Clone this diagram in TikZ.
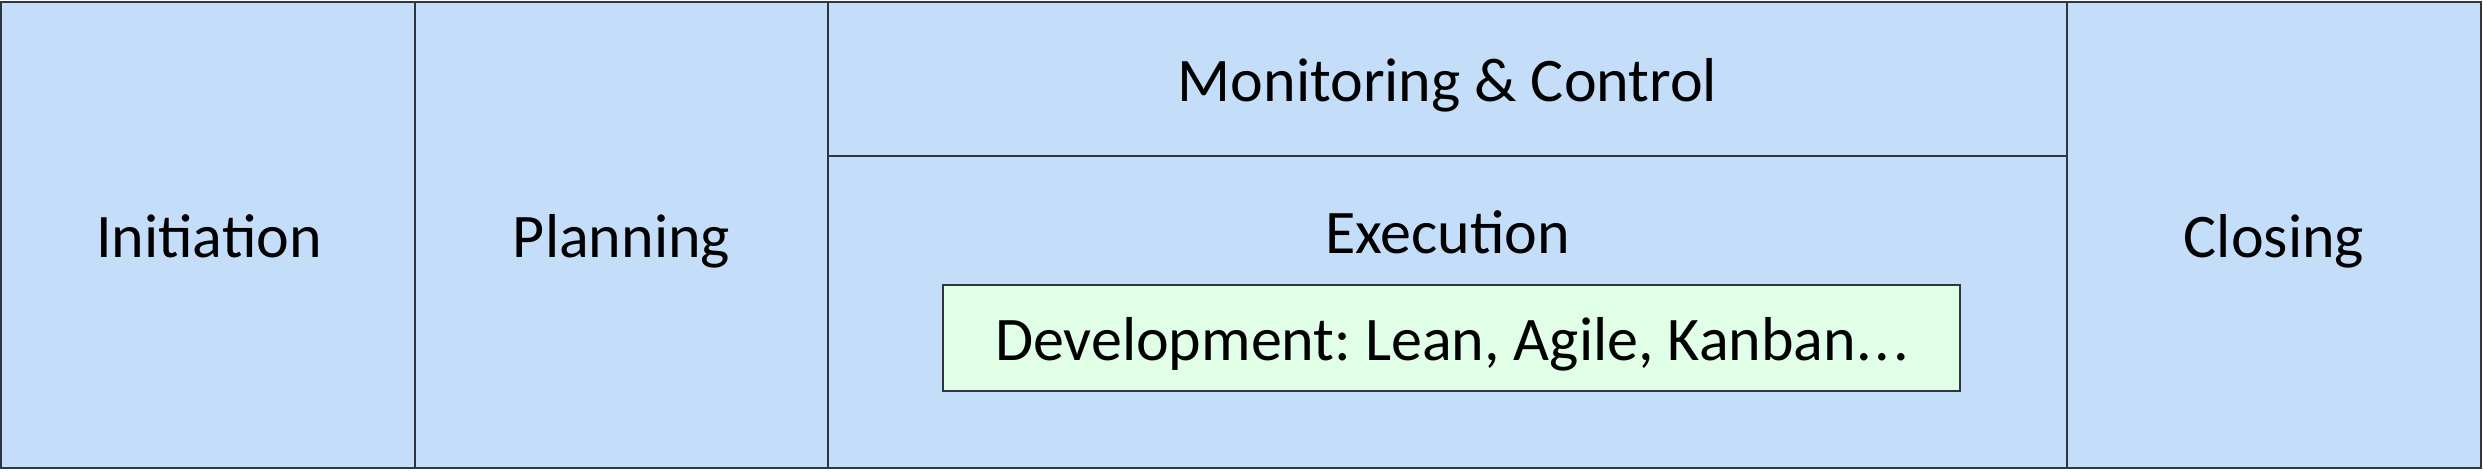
\documentclass[tikz,border=0pt]{standalone}
\usepackage{fontspec}
\setmainfont{Carlito}
\frenchspacing
\definecolor{cellblue}{HTML}{C4DEFA}
\definecolor{devgreen}{HTML}{E0FFE6}
\definecolor{edge}{HTML}{2E3640}
\begin{document}
\begin{tikzpicture}[x=1pt,y=-1pt,
  cell/.style={draw=edge, line width=1.3pt, fill=cellblue, rectangle, inner sep=0pt, outer sep=0pt},
  devbox/.style={draw=edge, line width=1.3pt, fill=devgreen, rectangle, inner sep=0pt, outer sep=0pt},
  lbl/.style={anchor=base, inner sep=0pt, font=\fontsize{62}{74}\selectfont, text=black}]
\useasboundingbox (0,0) rectangle (2483,472);
\fill[white] (0,0) rectangle (2483,472);
% cells
\node[cell, minimum width=414pt, minimum height=466pt] (init) at (208,235) {};
\node[cell, minimum width=413pt, minimum height=466pt] (plan) at (621.5,235) {};
\node[cell, minimum width=1239pt, minimum height=154pt] (mon) at (1447.5,79) {};
\node[cell, minimum width=1239pt, minimum height=312pt] (exec) at (1447.5,312) {};
\node[cell, minimum width=414pt, minimum height=466pt] (close) at (2274,235) {};
\node[devbox, minimum width=1017pt, minimum height=106pt] (dev) at (1451.5,338) {};
% labels
\node[lbl] (initlbl) at (209,257) {Initiation};
\node[lbl] (planlbl) at (621.5,257) {Planning};
\node[lbl] (monlbl) at (1447.5,101) {Monitoring \& Control};
\node[lbl] (execlbl) at (1447.5,253) {Execution};
\node[lbl] (devlbl) at (1452,360) {Development: Lean, Agile, Kanban.\kern3pt.\kern3pt.};
\node[lbl] (closelbl) at (2274,257) {Closing};
\end{tikzpicture}
\end{document}
